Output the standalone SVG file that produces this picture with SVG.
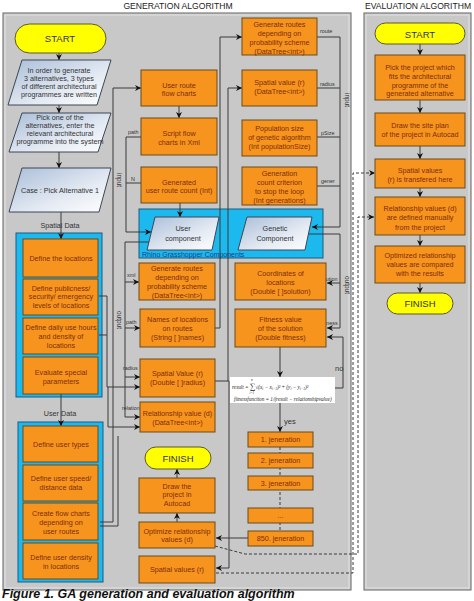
<svg xmlns="http://www.w3.org/2000/svg" width="474" height="601" viewBox="0 0 474 601">
<defs>
<linearGradient id="pg" x1="0" y1="0" x2="1" y2="1">
<stop offset="0" stop-color="#a9bdd8"/><stop offset="0.6" stop-color="#e4eaf3"/><stop offset="1" stop-color="#ffffff"/>
</linearGradient>
<marker id="ar" viewBox="0 0 10 10" refX="10" refY="5" markerWidth="7" markerHeight="6" markerUnits="userSpaceOnUse" orient="auto">
<path d="M0,0 L10,5 L0,10 L3,5 Z" fill="#111"/>
</marker>
<style>
.panel{fill:#c8c8c8;stroke:#7c7c7c;stroke-width:1.2}
.ob{fill:#f7941d;stroke:#6b4a1a;stroke-width:1}
.pill{fill:#ffff00;stroke:#5a5a2a;stroke-width:1}
.para{fill:url(#pg);stroke:#3d4656;stroke-width:1}
.cy{fill:#1cb9ee;stroke:#1d5a80;stroke-width:1}
.t{font-family:"Liberation Sans",Arial,sans-serif;font-size:7.2px;fill:#7d2d0d;text-anchor:middle}
.tp{font-family:"Liberation Sans",Arial,sans-serif;font-size:7.2px;fill:#333;text-anchor:middle}
.ts{font-family:"Liberation Sans",Arial,sans-serif;font-size:9.5px;fill:#333;text-anchor:middle}
.h{font-family:"Liberation Sans",Arial,sans-serif;font-size:8.6px;fill:#222;text-anchor:middle}
.l{font-family:"Liberation Sans",Arial,sans-serif;font-size:5.4px;fill:#333}
.lv{font-family:"Liberation Sans",Arial,sans-serif;font-size:6.5px;fill:#333;text-anchor:middle}
.ln{fill:none;stroke:#3a3a3a;stroke-width:1}
.ar{marker-end:url(#ar)}
.da{stroke-dasharray:3,2}
.f{font-family:"Liberation Serif","Times New Roman",serif;font-size:5.2px;font-style:italic;fill:#222}
</style>
</defs>
<rect width="474" height="601" fill="#ffffff"/>

<g id="panels">
<rect class="panel" x="3" y="13" width="348" height="577"/>
<rect x="5" y="15" width="344" height="573" fill="none" stroke="#e8e8e8" stroke-width="0.8"/>
<rect class="panel" x="364" y="13" width="107" height="577"/>
<rect x="366" y="15" width="103" height="573" fill="none" stroke="#e8e8e8" stroke-width="0.8"/>
<text class="h" x="178" y="9">GENERATION ALGORITHM</text>
<text class="h" x="418" y="9">EVALUATION ALGORITHM</text>
</g>

<g id="containers">
<rect class="cy" x="16" y="233" width="86" height="164"/>
<rect class="cy" x="18" y="422" width="85" height="160"/>
<rect class="cy" x="139" y="209" width="184" height="49"/>
<text x="142" y="257" font-family="'Liberation Sans',Arial,sans-serif" font-size="7" fill="#1a3f8a">Rhino Grasshopper Components</text>
</g>

<g id="connectors">
<line class="ln ar" x1="59" y1="53" x2="59" y2="60"/>
<line class="ln ar" x1="59" y1="105" x2="59" y2="113"/>
<line class="ln ar" x1="59" y1="152" x2="59" y2="168"/>
<line class="ln ar" x1="61" y1="212" x2="61" y2="239"/>
<line class="ln ar" x1="61" y1="394" x2="61" y2="426"/>
<polyline class="ln ar" points="100,522 113,522 113,88 141,88"/>
<polyline class="ln" points="100,526 118,526 118,436"/>
<line class="ln ar" x1="179" y1="106" x2="179" y2="118"/>
<polyline class="ln ar" points="141,137 126,137 126,232 151,232"/>
<line class="ln" x1="141" y1="183" x2="126" y2="183"/>
<line class="ln ar" x1="180" y1="203" x2="180" y2="217"/>
<polyline class="ln" points="149,242 125,242 125,417" stroke-width="1.4"/>
<line class="ln ar" x1="125" y1="282" x2="139" y2="282"/>
<line class="ln ar" x1="125" y1="328" x2="140" y2="328"/>
<line class="ln ar" x1="125" y1="377" x2="140" y2="377"/>
<line class="ln ar" x1="125" y1="417" x2="140" y2="417"/>
<polyline class="ln ar" points="99,296 107,296 107,387 140,387"/>
<line class="ln" x1="99" y1="335" x2="107" y2="335"/>
<polyline class="ln ar" points="108,387 108,427 140,427"/>
<polyline class="ln" points="317,37 340,37 340,227"/>
<line class="ln" x1="317" y1="88" x2="340" y2="88"/>
<line class="ln" x1="317" y1="137" x2="340" y2="137"/>
<line class="ln" x1="317" y1="186" x2="340" y2="186"/>
<line class="ln ar" x1="340" y1="227" x2="312" y2="227" stroke-width="1.3"/>
<polyline class="ln ar" points="215,328 220,328 220,37 242,37"/>
<polyline class="ln ar" points="215,381 228,381 228,88 242,88"/>
<polyline class="ln ar" points="228,381 229,381 229,568 216,568"/>
<polyline class="ln" points="306,234 340,234 340,328"/>
<line class="ln ar" x1="340" y1="328" x2="327" y2="328"/>
<line class="ln ar" x1="340" y1="283" x2="327" y2="283"/>
<line class="ln ar" x1="280" y1="347" x2="280" y2="377"/>
<line class="ln ar" x1="280" y1="403" x2="280" y2="432"/>
<polyline class="ln ar" points="335,388 343,388 343,337 327,337"/>
<line class="ln da" x1="280" y1="447" x2="280" y2="531"/>
<line class="ln ar" x1="248" y1="538" x2="216" y2="538"/>
<line class="ln ar" x1="177" y1="522" x2="177" y2="513"/>
<line class="ln ar" x1="177" y1="478" x2="177" y2="469"/>
<polyline class="ln da ar" points="215,546 245,554 358,554 358,217 374,217"/>
<polyline class="ln da ar" points="216,573 353,573 353,173 375,173"/>
<line class="ln ar" x1="420" y1="44" x2="420" y2="55"/>
<line class="ln ar" x1="420" y1="100" x2="420" y2="113"/>
<line class="ln ar" x1="420" y1="146" x2="420" y2="159"/>
<line class="ln ar" x1="420" y1="188" x2="420" y2="197"/>
<line class="ln ar" x1="420" y1="235" x2="420" y2="246"/>
<line class="ln ar" x1="420" y1="283" x2="420" y2="293"/>
</g>

<g id="connector-labels">
<text class="l" x="128" y="134">path</text>
<text class="l" x="131" y="181">N</text>
<text class="l" x="127" y="277">xml</text>
<text class="l" x="126" y="324">path</text>
<text class="l" x="123" y="370">radius</text>
<text class="l" x="122" y="410">relation</text>
<text class="l" x="320" y="33">route</text>
<text class="l" x="320" y="86">radius</text>
<text class="l" x="321" y="135">pSize</text>
<text class="l" x="321" y="183">gener</text>
<text class="l" x="318" y="281">Solution</text>
<text class="l" x="322" y="325">fitness</text>
<text x="335" y="371" font-family="'Liberation Sans',Arial,sans-serif" font-size="7.5" fill="#333">no</text>
<text x="284" y="424" font-family="'Liberation Sans',Arial,sans-serif" font-size="7.5" fill="#333">yes</text>
<text class="lv" transform="translate(117,180) rotate(90)">input</text>
<text class="lv" transform="translate(117,320) rotate(90)">output</text>
<text class="lv" transform="translate(345,100) rotate(90)">input</text>
<text class="lv" transform="translate(345,285) rotate(90)">output</text>
<text class="tp" x="60" y="228">Spatial Data</text>
<text class="tp" x="60" y="416">User Data</text>
</g>

<g id="start"><rect class="pill" x="15" y="24" width="91" height="29" rx="14.5"/><text class="ts" x="60" y="42">START</text></g>
<g id="p1"><polygon class="para" points="22,60 111,60 97,105 8,105"/>
<text class="tp" x="59" y="72.5">In order to generate</text><text class="tp" x="59" y="80.5">3 alternatives, 3 types</text><text class="tp" x="59" y="88.5">of different architectural</text><text class="tp" x="59" y="96.5">programmes are written</text></g>
<g id="p2"><polygon class="para" points="22,113 111,113 98,152 9,152"/>
<text class="tp" x="60" y="120">Pick one of the</text><text class="tp" x="60" y="128">alternatives, enter the</text><text class="tp" x="60" y="136">relevant architectural</text><text class="tp" x="60" y="144">programme into the system</text></g>
<g id="p3"><polygon class="para" points="22,168 111,168 99,212 9,212"/><text class="tp" x="60" y="193">Case : Pick Alternative 1</text></g>

<g id="s1"><rect class="ob" x="23" y="239" width="75" height="38"/><text class="t" x="61" y="260.5">Define the locations</text></g>
<g id="s2"><rect class="ob" x="23" y="279" width="75" height="36"/><text class="t" x="61" y="290.5">Define publicness/</text><text class="t" x="61" y="299">security/ emergency</text><text class="t" x="61" y="307.5">levels of locations</text></g>
<g id="s3"><rect class="ob" x="23" y="318" width="75" height="36"/><text class="t" x="61" y="329.5">Define daily use hours</text><text class="t" x="61" y="338.5">and density of</text><text class="t" x="61" y="347.5">locations</text></g>
<g id="s4"><rect class="ob" x="23" y="357" width="75" height="37"/><text class="t" x="61" y="374.5">Evaluate special</text><text class="t" x="61" y="383.5">parameters</text></g>
<g id="u1"><rect class="ob" x="23" y="426" width="75" height="36"/><text class="t" x="61" y="446.5">Define user types</text></g>
<g id="u2"><rect class="ob" x="23" y="465" width="75" height="36"/><text class="t" x="61" y="480.5">Define user speed/</text><text class="t" x="61" y="489.5">distance data</text></g>
<g id="u3"><rect class="ob" x="23" y="503" width="75" height="37"/><text class="t" x="61" y="515.5">Create flow charts</text><text class="t" x="61" y="524.5">depending on</text><text class="t" x="61" y="533.5">user routes</text></g>
<g id="u4"><rect class="ob" x="23" y="543" width="75" height="36"/><text class="t" x="61" y="559.5">Define user density</text><text class="t" x="61" y="568.5">in locations</text></g>

<g id="m1"><rect class="ob" x="141" y="70" width="76" height="36"/><text class="t" x="179" y="87.5">User route</text><text class="t" x="179" y="96">flow charts</text></g>
<g id="m2"><rect class="ob" x="141" y="118" width="76" height="37"/><text class="t" x="179" y="135.5">Script flow</text><text class="t" x="179" y="144.5">charts in Xml</text></g>
<g id="m3"><rect class="ob" x="141" y="167" width="76" height="36"/><text class="t" x="179" y="184.5">Generated</text><text class="t" x="179" y="193">user route count (Int)</text></g>
<g id="userc"><polygon class="para" points="155,217 219,217 212,250 147,250"/><text class="tp" x="183" y="231">User</text><text class="tp" x="183" y="241">component</text></g>
<g id="genc"><polygon class="para" points="247,217 312,217 305,250 238,250"/><text class="tp" x="275" y="231">Genetic</text><text class="tp" x="275" y="241">Component</text></g>
<g id="m4"><rect class="ob" x="139" y="263" width="76" height="37"/><text class="t" x="177" y="270.5">Generate routes</text><text class="t" x="177" y="279.5">depending on</text><text class="t" x="177" y="288.5">probability scheme</text><text class="t" x="177" y="297.5">(DataTree&lt;int&gt;)</text></g>
<g id="m5"><rect class="ob" x="140" y="309" width="75" height="38"/><text class="t" x="177.5" y="321.5">Names of locations</text><text class="t" x="177.5" y="330.5">on routes</text><text class="t" x="177.5" y="339.5">(String [ ]names)</text></g>
<g id="m6"><rect class="ob" x="140" y="359" width="75" height="38"/><text class="t" x="177.5" y="375.5">Spatial Value (r)</text><text class="t" x="177.5" y="384.5">(Double [ ]radius)</text></g>
<g id="m7"><rect class="ob" x="140" y="402" width="75" height="30"/><text class="t" x="177.5" y="415.5">Relationship value (d)</text><text class="t" x="177.5" y="424.5">(DataTree&lt;int&gt;)</text></g>
<g id="finish1"><rect class="pill" x="145" y="447" width="66" height="22" rx="11"/><text class="ts" x="178" y="461.5">FINISH</text></g>
<g id="m8"><rect class="ob" x="139" y="478" width="76" height="35"/><text class="t" x="177" y="488.5">Draw the</text><text class="t" x="177" y="497">project in</text><text class="t" x="177" y="505.5">Autocad</text></g>
<g id="m9"><rect class="ob" x="139" y="522" width="76" height="26"/><text class="t" x="177" y="533.5">Optimize relationship</text><text class="t" x="177" y="542">values (d)</text></g>
<g id="m10"><rect class="ob" x="139" y="556" width="76" height="27"/><text class="t" x="177" y="571.5">Spatial values (r)</text></g>

<g id="r1"><rect class="ob" x="242" y="18" width="75" height="37"/><text class="t" x="279.5" y="26.5">Generate routes</text><text class="t" x="279.5" y="35.5">depending on</text><text class="t" x="279.5" y="44.5">probability scheme</text><text class="t" x="279.5" y="53.5">(DataTree&lt;int&gt;)</text></g>
<g id="r2"><rect class="ob" x="242" y="70" width="75" height="36"/><text class="t" x="279.5" y="84.5">Spatial value (r)</text><text class="t" x="279.5" y="93.5">(DataTree&lt;int&gt;)</text></g>
<g id="r3"><rect class="ob" x="242" y="120" width="75" height="36"/><text class="t" x="279.5" y="130.5">Population size</text><text class="t" x="279.5" y="139.5">of genetic algorithm</text><text class="t" x="279.5" y="148.5">(Int populationSize)</text></g>
<g id="r4"><rect class="ob" x="242" y="167" width="75" height="38"/><text class="t" x="279.5" y="175.5">Generation</text><text class="t" x="279.5" y="184.5">count criterion</text><text class="t" x="279.5" y="193.5">to stop the loop</text><text class="t" x="279.5" y="202.5">(Int generations)</text></g>
<g id="r5"><rect class="ob" x="235" y="263" width="91" height="37"/><text class="t" x="280.5" y="275.5">Coordinates of</text><text class="t" x="280.5" y="284.5">locations</text><text class="t" x="280.5" y="293.5">(Double [ ]solution)</text></g>
<g id="r6"><rect class="ob" x="235" y="309" width="91" height="38"/><text class="t" x="280.5" y="321.5">Fitness value</text><text class="t" x="280.5" y="330.5">of the solution</text><text class="t" x="280.5" y="339.5">(Double fitness)</text></g>
<g id="formula"><rect x="230" y="377" width="105" height="26" fill="#ffffff"/>
<text class="f" x="232" y="389">result = <tspan font-size="8" font-style="normal">∑</tspan><tspan font-size="3.2" dx="-4.5" dy="-8">n</tspan><tspan font-size="3.2" dx="-3" dy="13">i=1</tspan><tspan dy="-5"> √(x</tspan><tspan font-size="3.6" dy="1">i</tspan><tspan dy="-1"> − x</tspan><tspan font-size="3.6" dy="1">i+1</tspan><tspan dy="-1">)² + (y</tspan><tspan font-size="3.6" dy="1">i</tspan><tspan dy="-1"> − y</tspan><tspan font-size="3.6" dy="1">i+1</tspan><tspan dy="-1">)²</tspan></text>
<text class="f" x="234" y="400.5">fitnessfunction = 1/(result − relationshipvalue)</text></g>
<g id="j1"><rect class="ob" x="248" y="432" width="65" height="15"/><text class="t" x="280.5" y="442">1. jeneration</text></g>
<g id="j2"><rect class="ob" x="248" y="453" width="65" height="15"/><text class="t" x="280.5" y="463">2. jeneration</text></g>
<g id="j3"><rect class="ob" x="248" y="476" width="65" height="14"/><text class="t" x="280.5" y="485.5">3. jeneration</text></g>
<g id="j4"><rect class="ob" x="248" y="508" width="65" height="15"/><text class="t" x="280.5" y="518">...</text></g>
<g id="j850"><rect class="ob" x="248" y="531" width="65" height="15"/><text class="t" x="280.5" y="541">850. jeneration</text></g>

<g id="e0"><rect class="pill" x="375" y="23" width="90" height="21" rx="10.5"/><text class="ts" x="420" y="37.5">START</text></g>
<g id="e1"><rect class="ob" x="375" y="55" width="90" height="45"/><text class="t" x="420" y="69.5">Pick the project which</text><text class="t" x="420" y="78.5">fits the architectural</text><text class="t" x="420" y="87.5">programme of the</text><text class="t" x="420" y="96">generated alternative</text></g>
<g id="e2"><rect class="ob" x="375" y="113" width="90" height="33"/><text class="t" x="420" y="128">Draw the site plan</text><text class="t" x="420" y="137">of the project in Autocad</text></g>
<g id="e3"><rect class="ob" x="375" y="159" width="90" height="29"/><text class="t" x="420" y="173">Spatial values</text><text class="t" x="420" y="181.5">(r) is transfered here</text></g>
<g id="e4"><rect class="ob" x="375" y="197" width="90" height="38"/><text class="t" x="420" y="211">Relationship values (d)</text><text class="t" x="420" y="220">are defined manually</text><text class="t" x="420" y="229.5">from the project</text></g>
<g id="e5"><rect class="ob" x="375" y="246" width="90" height="37"/><text class="t" x="420" y="257.5">Optimized relationship</text><text class="t" x="420" y="266.5">values are compared</text><text class="t" x="420" y="275.5">with the results</text></g>
<g id="e6"><rect class="pill" x="387" y="293" width="66" height="21" rx="10.5"/><text class="ts" x="420" y="307">FINISH</text></g>

<text x="2" y="598" font-family="'Liberation Sans',Arial,sans-serif" font-size="12.5" font-weight="bold" font-style="italic" fill="#111">Figure 1. GA generation and evaluation algorithm</text>
</svg>
